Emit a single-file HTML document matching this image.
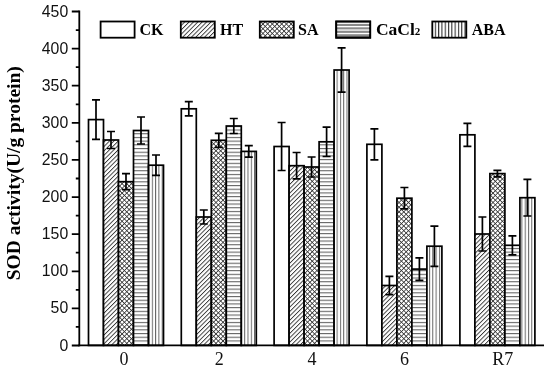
<!DOCTYPE html>
<html><head><meta charset="utf-8"><style>
html,body{margin:0;padding:0;background:#fff;}
body{width:550px;height:371px;overflow:hidden;}
svg{display:block;}
.yt{font-family:"Liberation Sans",Arial,sans-serif;font-size:15.8px;fill:#111;}
.xt{font-family:"Liberation Serif","Times New Roman",serif;font-size:18px;fill:#111;}
.lg{font-family:"Liberation Serif","Times New Roman",serif;font-size:16px;font-weight:bold;fill:#000;}
.tt{font-family:"Liberation Serif","Times New Roman",serif;font-size:19.5px;font-weight:bold;fill:#000;}
</style></head><body>
<svg width="550" height="371" viewBox="0 0 550 371">
<defs>
<pattern id="pHT" patternUnits="userSpaceOnUse" width="3.1" height="3.1" patternTransform="rotate(45)">
<rect width="3.1" height="3.1" fill="#fff"/><rect x="0" width="0.9" height="3.1" fill="#333"/></pattern>
<pattern id="pSA" patternUnits="userSpaceOnUse" width="3.32" height="3.32" patternTransform="rotate(45)">
<rect width="3.32" height="3.32" fill="#fff"/><rect x="0" width="0.8" height="3.32" fill="#333"/><rect y="0" width="3.32" height="0.8" fill="#333"/></pattern>
<pattern id="pCa" patternUnits="userSpaceOnUse" width="4" height="3.7">
<rect width="4" height="3.7" fill="#fff"/><rect y="0" width="4" height="1.1" fill="#666"/></pattern>
<pattern id="pABA" patternUnits="userSpaceOnUse" width="3.3" height="4">
<rect width="3.3" height="4" fill="#fff"/><rect x="0" width="1" height="4" fill="#666"/></pattern>
<pattern id="pCaL" patternUnits="userSpaceOnUse" x="0" y="22.4" width="4" height="3.4">
<rect width="4" height="3.4" fill="#808080"/><rect y="0" width="4" height="1.4" fill="#fff"/></pattern>
<pattern id="pABAL" patternUnits="userSpaceOnUse" x="434.8" y="0" width="3.3" height="4">
<rect width="3.3" height="4" fill="#fff"/><rect x="0" width="1.1" height="4" fill="#333"/></pattern>
</defs>
<rect width="550" height="371" fill="#fff"/>
<rect x="88.50" y="119.60" width="15" height="225.80" fill="#fff" stroke="#000" stroke-width="1.7"/>
<rect x="103.50" y="140.00" width="15" height="205.40" fill="url(#pHT)" stroke="#000" stroke-width="1.7"/>
<rect x="118.50" y="181.70" width="15" height="163.70" fill="url(#pSA)" stroke="#000" stroke-width="1.7"/>
<rect x="133.50" y="130.50" width="15" height="214.90" fill="url(#pCa)" stroke="#000" stroke-width="1.7"/>
<rect x="148.50" y="165.20" width="15" height="180.20" fill="url(#pABA)" stroke="#000" stroke-width="1.7"/>
<rect x="181.30" y="108.80" width="15" height="236.60" fill="#fff" stroke="#000" stroke-width="1.7"/>
<rect x="196.30" y="217.00" width="15" height="128.40" fill="url(#pHT)" stroke="#000" stroke-width="1.7"/>
<rect x="211.30" y="140.30" width="15" height="205.10" fill="url(#pSA)" stroke="#000" stroke-width="1.7"/>
<rect x="226.30" y="126.00" width="15" height="219.40" fill="url(#pCa)" stroke="#000" stroke-width="1.7"/>
<rect x="241.30" y="151.40" width="15" height="194.00" fill="url(#pABA)" stroke="#000" stroke-width="1.7"/>
<rect x="274.10" y="146.50" width="15" height="198.90" fill="#fff" stroke="#000" stroke-width="1.7"/>
<rect x="289.10" y="165.70" width="15" height="179.70" fill="url(#pHT)" stroke="#000" stroke-width="1.7"/>
<rect x="304.10" y="167.00" width="15" height="178.40" fill="url(#pSA)" stroke="#000" stroke-width="1.7"/>
<rect x="319.10" y="141.80" width="15" height="203.60" fill="url(#pCa)" stroke="#000" stroke-width="1.7"/>
<rect x="334.10" y="70.00" width="15" height="275.40" fill="url(#pABA)" stroke="#000" stroke-width="1.7"/>
<rect x="366.90" y="144.30" width="15" height="201.10" fill="#fff" stroke="#000" stroke-width="1.7"/>
<rect x="381.90" y="285.50" width="15" height="59.90" fill="url(#pHT)" stroke="#000" stroke-width="1.7"/>
<rect x="396.90" y="198.20" width="15" height="147.20" fill="url(#pSA)" stroke="#000" stroke-width="1.7"/>
<rect x="411.90" y="269.10" width="15" height="76.30" fill="url(#pCa)" stroke="#000" stroke-width="1.7"/>
<rect x="426.90" y="246.20" width="15" height="99.20" fill="url(#pABA)" stroke="#000" stroke-width="1.7"/>
<rect x="459.90" y="134.80" width="15" height="210.60" fill="#fff" stroke="#000" stroke-width="1.7"/>
<rect x="474.90" y="234.00" width="15" height="111.40" fill="url(#pHT)" stroke="#000" stroke-width="1.7"/>
<rect x="489.90" y="173.60" width="15" height="171.80" fill="url(#pSA)" stroke="#000" stroke-width="1.7"/>
<rect x="504.90" y="245.30" width="15" height="100.10" fill="url(#pCa)" stroke="#000" stroke-width="1.7"/>
<rect x="519.90" y="197.70" width="15" height="147.70" fill="url(#pABA)" stroke="#000" stroke-width="1.7"/>
<path d="M96.00 99.80V139.40M92.00 99.80H100.00M92.00 139.40H100.00" stroke="#000" stroke-width="1.7" fill="none"/>
<path d="M111.00 131.50V148.50M107.00 131.50H115.00M107.00 148.50H115.00" stroke="#000" stroke-width="1.7" fill="none"/>
<path d="M126.00 173.70V189.70M122.00 173.70H130.00M122.00 189.70H130.00" stroke="#000" stroke-width="1.7" fill="none"/>
<path d="M141.00 117.00V144.00M137.00 117.00H145.00M137.00 144.00H145.00" stroke="#000" stroke-width="1.7" fill="none"/>
<path d="M156.00 155.00V175.40M152.00 155.00H160.00M152.00 175.40H160.00" stroke="#000" stroke-width="1.7" fill="none"/>
<path d="M188.80 101.70V115.90M184.80 101.70H192.80M184.80 115.90H192.80" stroke="#000" stroke-width="1.7" fill="none"/>
<path d="M203.80 210.00V224.00M199.80 210.00H207.80M199.80 224.00H207.80" stroke="#000" stroke-width="1.7" fill="none"/>
<path d="M218.80 133.30V147.30M214.80 133.30H222.80M214.80 147.30H222.80" stroke="#000" stroke-width="1.7" fill="none"/>
<path d="M233.80 118.50V133.50M229.80 118.50H237.80M229.80 133.50H237.80" stroke="#000" stroke-width="1.7" fill="none"/>
<path d="M248.80 145.60V157.20M244.80 145.60H252.80M244.80 157.20H252.80" stroke="#000" stroke-width="1.7" fill="none"/>
<path d="M281.60 122.50V170.50M277.60 122.50H285.60M277.60 170.50H285.60" stroke="#000" stroke-width="1.7" fill="none"/>
<path d="M296.60 152.50V178.90M292.60 152.50H300.60M292.60 178.90H300.60" stroke="#000" stroke-width="1.7" fill="none"/>
<path d="M311.60 157.00V177.00M307.60 157.00H315.60M307.60 177.00H315.60" stroke="#000" stroke-width="1.7" fill="none"/>
<path d="M326.60 127.10V156.50M322.60 127.10H330.60M322.60 156.50H330.60" stroke="#000" stroke-width="1.7" fill="none"/>
<path d="M341.60 47.80V92.20M337.60 47.80H345.60M337.60 92.20H345.60" stroke="#000" stroke-width="1.7" fill="none"/>
<path d="M374.40 128.80V159.80M370.40 128.80H378.40M370.40 159.80H378.40" stroke="#000" stroke-width="1.7" fill="none"/>
<path d="M389.40 276.30V294.70M385.40 276.30H393.40M385.40 294.70H393.40" stroke="#000" stroke-width="1.7" fill="none"/>
<path d="M404.40 187.50V208.90M400.40 187.50H408.40M400.40 208.90H408.40" stroke="#000" stroke-width="1.7" fill="none"/>
<path d="M419.40 257.80V280.40M415.40 257.80H423.40M415.40 280.40H423.40" stroke="#000" stroke-width="1.7" fill="none"/>
<path d="M434.40 226.10V266.30M430.40 226.10H438.40M430.40 266.30H438.40" stroke="#000" stroke-width="1.7" fill="none"/>
<path d="M467.40 123.30V146.30M463.40 123.30H471.40M463.40 146.30H471.40" stroke="#000" stroke-width="1.7" fill="none"/>
<path d="M482.40 217.00V251.00M478.40 217.00H486.40M478.40 251.00H486.40" stroke="#000" stroke-width="1.7" fill="none"/>
<path d="M497.40 170.40V176.80M493.40 170.40H501.40M493.40 176.80H501.40" stroke="#000" stroke-width="1.7" fill="none"/>
<path d="M512.40 235.80V254.80M508.40 235.80H516.40M508.40 254.80H516.40" stroke="#000" stroke-width="1.7" fill="none"/>
<path d="M527.40 179.40V216.00M523.40 179.40H531.40M523.40 216.00H531.40" stroke="#000" stroke-width="1.7" fill="none"/>
<path d="M79.3 10.60V346.29999999999995" stroke="#000" stroke-width="1.8"/><path d="M78.39999999999999 345.4H544" stroke="#000" stroke-width="1.8"/><path d="M71.80 345.50H79.3M75.80 326.94H79.3M71.80 308.39H79.3M75.80 289.83H79.3M71.80 271.28H79.3M75.80 252.72H79.3M71.80 234.17H79.3M75.80 215.61H79.3M71.80 197.06H79.3M75.80 178.50H79.3M71.80 159.94H79.3M75.80 141.39H79.3M71.80 122.83H79.3M75.80 104.28H79.3M71.80 85.72H79.3M75.80 67.17H79.3M71.80 48.61H79.3M75.80 30.06H79.3M71.80 11.50H79.3" stroke="#000" stroke-width="1.8"/>
<g class="yt">
<text x="68.2" y="350.60" text-anchor="end">0</text>
<text x="68.2" y="313.49" text-anchor="end">50</text>
<text x="68.2" y="276.38" text-anchor="end">100</text>
<text x="68.2" y="239.27" text-anchor="end">150</text>
<text x="68.2" y="202.16" text-anchor="end">200</text>
<text x="68.2" y="165.04" text-anchor="end">250</text>
<text x="68.2" y="127.93" text-anchor="end">300</text>
<text x="68.2" y="90.82" text-anchor="end">350</text>
<text x="68.2" y="53.71" text-anchor="end">400</text>
<text x="68.2" y="16.60" text-anchor="end">450</text>
</g>
<g class="xt">
<text x="124.00" y="364.8" text-anchor="middle">0</text>
<text x="219.30" y="364.8" text-anchor="middle">2</text>
<text x="312.00" y="364.8" text-anchor="middle">4</text>
<text x="404.50" y="364.8" text-anchor="middle">6</text>
<text x="502.70" y="364.8" text-anchor="middle">R7</text>
</g>
<g class="lg">
<rect x="100.60" y="21.5" width="34.0" height="16.2" fill="#fff" stroke="#000" stroke-width="1.8"/>
<text x="139.50" y="34.7">CK</text>
<rect x="180.80" y="21.5" width="34.0" height="16.2" fill="url(#pHT)" stroke="#000" stroke-width="1.8"/>
<text x="220.10" y="34.7">HT</text>
<rect x="259.80" y="21.5" width="34.0" height="16.2" fill="url(#pSA)" stroke="#000" stroke-width="1.8"/>
<text x="298.10" y="34.7">SA</text>
<rect x="336.20" y="21.5" width="34.0" height="16.2" fill="#8a8a8a" stroke="#000" stroke-width="1.8"/>
<rect x="337.10" y="22.6" width="32.6" height="1.3" fill="#fff"/>
<rect x="337.10" y="26.0" width="32.6" height="1.3" fill="#fff"/>
<rect x="337.10" y="29.4" width="32.6" height="1.3" fill="#fff"/>
<rect x="337.10" y="32.9" width="32.6" height="1.3" fill="#fff"/>
<rect x="336.20" y="21.5" width="34.0" height="16.2" fill="none" stroke="#000" stroke-width="1.8"/>
<text x="375.90" y="34.8" font-size="17.5">CaCl<tspan font-size="11" dy="0.6">2</tspan></text>
<rect x="432.30" y="21.5" width="34.0" height="16.2" fill="url(#pABAL)" stroke="#000" stroke-width="1.8"/>
<text x="471.80" y="34.7">ABA</text>
</g>
<text class="tt" transform="translate(20 280.3) rotate(-90)">SOD activity(U/g protein)</text>
</svg>
</body></html>
